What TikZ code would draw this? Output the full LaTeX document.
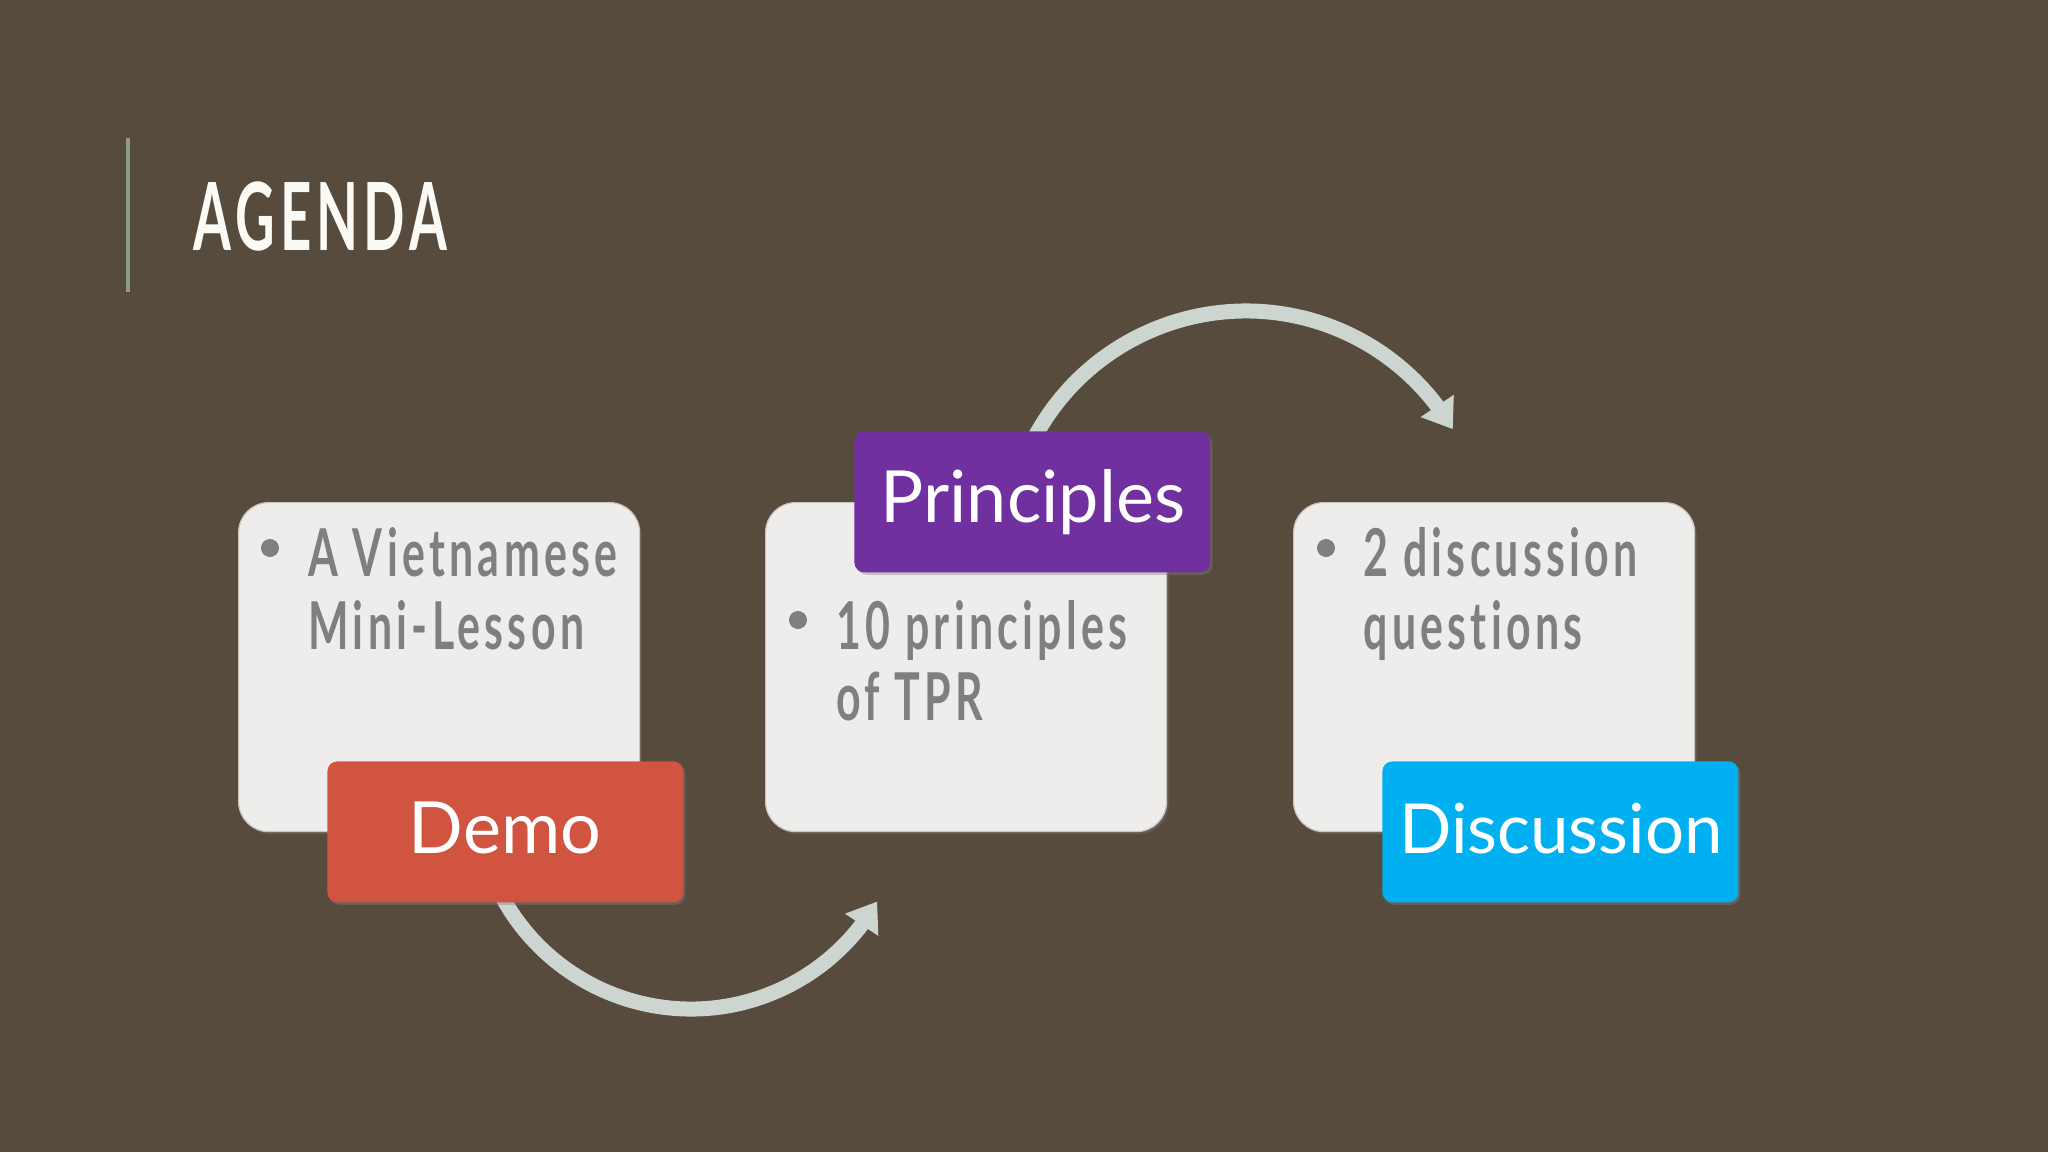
\documentclass[tikz,border=0pt]{standalone}
\usepackage{fontspec}
\setmainfont{Lato}
\newfontfamily\condfont[FakeStretch=0.65,LetterSpace=6.5,Ligatures=NoCommon]{Lato}
\newfontfamily\titlefont[FakeStretch=0.58,LetterSpace=5.5]{Lato}
\newfontfamily\labelfont{Lato}
\usetikzlibrary{arrows.meta,shadows,bending}
\definecolor{bg}{RGB}{87,75,62}
\definecolor{cardfill}{RGB}{238,237,235}
\definecolor{cardedge}{RGB}{200,198,192}
\definecolor{txtgray}{RGB}{127,127,127}
\definecolor{demored}{RGB}{209,84,64}
\definecolor{princpurple}{RGB}{112,48,160}
\definecolor{discblue}{RGB}{0,176,240}
\definecolor{arrowc}{RGB}{205,213,208}
\definecolor{titleline}{RGB}{140,156,138}
\definecolor{titlewhite}{RGB}{252,250,245}
\begin{document}
\begin{tikzpicture}[x=0.5pt,y=-0.5pt,
  card/.style={draw=cardedge, fill=cardfill, line width=0.6pt, rounded corners=15pt,
    minimum width=200.5pt, minimum height=164.5pt, anchor=north west, inner sep=0pt,
    drop shadow={shadow xshift=1pt,shadow yshift=-1.2pt,opacity=0.35}},
  tag/.style={rounded corners=5pt, minimum width=178pt, minimum height=70.5pt,
    anchor=north west, inner sep=0pt,
    drop shadow={shadow xshift=1pt,shadow yshift=-1.2pt,opacity=0.4}},
  tagtext/.style={text=white, font=\labelfont\fontsize{36}{40}\selectfont, anchor=base, inner sep=0pt},
  bullettext/.style={text=txtgray, font=\condfont\bfseries\fontsize{33}{40}\selectfont, anchor=base west, inner sep=0pt},
  dot/.style={circle, fill=txtgray, minimum size=9pt, inner sep=0pt},
  flow/.style={draw=arrowc, line width=7.5pt, -{Triangle[width=19pt,length=14pt,flex]}},
]
\useasboundingbox (0,0) rectangle (2048,1152);
\fill[bg] (0,0) rectangle (2048,1152);

% title
\draw[titleline, line width=2pt] (128,138) -- (128,292);
\node[text=titlewhite, font=\titlefont\bfseries\fontsize{47}{50}\selectfont, anchor=base west, inner sep=0pt] (title) at (193,250) {AGENDA};

% arrows (drawn under boxes)
\coordinate (arcA) at (691,794);
\coordinate (arcB) at (1246,551);
\draw[flow] (arcA) ++(155:215) arc[start angle=155, end angle=30, radius=215];
\draw[flow] (arcB) ++(-155:240) arc[start angle=-155, end angle=-30.5, radius=240];

% cards
\node[card] (c1) at (238,502) {};
\node[card] (c2) at (765,502) {};
\node[card] (c3) at (1293,502) {};

% card texts
\node[dot] (d1) at (270,548) {};
\node[bullettext] (t1a) at (308,576) {A Vietnamese};
\node[bullettext] (t1b) at (308,649) {Mini-Lesson};

\node[dot] (d2) at (798,620) {};
\node[bullettext] (t2a) at (836,649) {10 principles};
\node[bullettext] (t2b) at (836,720) {of TPR};

\node[dot] (d3) at (1326,548) {};
\node[bullettext] (t3a) at (1363,576) {2 discussion};
\node[bullettext] (t3b) at (1363,649) {questions};

% tags
\node[tag, fill=demored] (demo) at (327,761) {};
\node[tagtext] (demot) at (505,853) {Demo};
\node[tag, fill=princpurple] (princ) at (854,431) {};
\node[tagtext] (princt) at (1033,522) {Principles};
\node[tag, fill=discblue] (disc) at (1382,761) {};
\node[tagtext, font=\labelfont\fontsize{34.5}{40}\selectfont] (disct) at (1561,853) {Discussion};
\end{tikzpicture}
\end{document}
